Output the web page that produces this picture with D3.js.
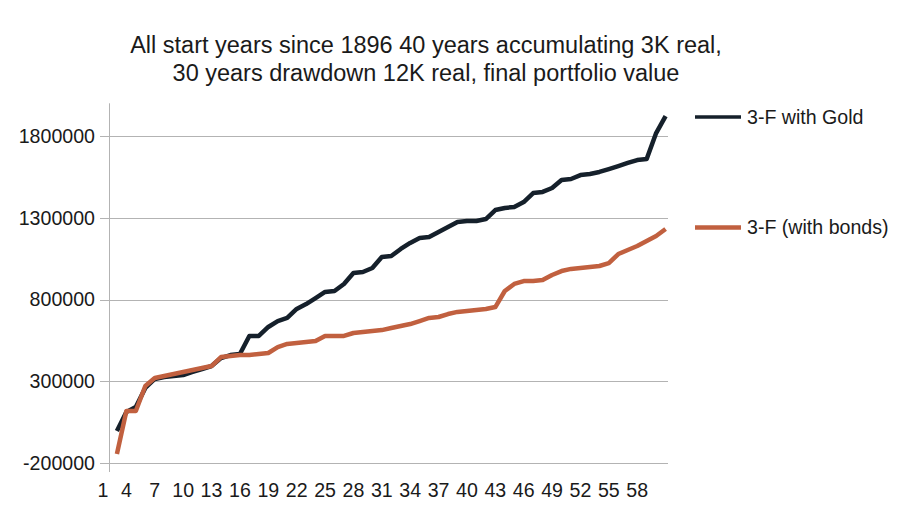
<!DOCTYPE html>
<html>
<head>
<meta charset="utf-8">
<script src="https://cdn.jsdelivr.net/npm/d3@7"></script>
<style>
  body { margin: 0; background: #fff; }
  text { font-family: "Liberation Sans", Arial, sans-serif; fill: #1a1a1a; }
</style>
</head>
<body>
<script>
// category index (start year number) for each point
const starts = [3, 4, 5, 6, 7, 8, 9, 10, 11, 12, 13, 14, 15, 16, 17, 18, 19, 20,
  21, 22, 23, 24, 25, 26, 27, 28, 29, 30, 31, 32, 33, 34, 35, 36, 37, 38, 39, 40,
  41, 42, 43, 44, 45, 46, 47, 48, 49, 50, 51, 52, 53, 54, 55, 56, 57, 58, 59, 60, 61];

const withGold = [-4000, 112000, 142000, 259000, 314000, 326000, 332000, 338000,
  357000, 375000, 393000, 442000, 460000, 467000, 577000, 577000, 632000, 668000,
  687000, 742000, 772000, 809000, 846000, 852000, 895000, 962000, 968000, 993000,
  1060000, 1066000, 1109000, 1146000, 1176000, 1182000, 1213000, 1243000, 1274000,
  1280000, 1280000, 1292000, 1347000, 1360000, 1366000, 1396000, 1451000, 1458000,
  1482000, 1531000, 1537000, 1561000, 1568000, 1580000, 1598000, 1616000, 1635000,
  1653000, 1659000, 1818000, 1922000];

const withBonds = [-145000, 118000, 118000, 271000, 320000, 332000, 344000, 357000,
  369000, 381000, 393000, 448000, 454000, 460000, 460000, 467000, 473000, 509000,
  528000, 534000, 540000, 546000, 577000, 577000, 577000, 595000, 601000, 607000,
  613000, 626000, 638000, 650000, 668000, 687000, 693000, 711000, 724000, 730000,
  736000, 742000, 754000, 852000, 895000, 913000, 913000, 919000, 950000, 974000,
  987000, 993000, 999000, 1005000, 1023000, 1078000, 1103000, 1127000, 1158000,
  1188000, 1231000];

const xTicks = [1, 4, 7, 10, 13, 16, 19, 22, 25, 28, 31, 34, 37, 40, 43, 46, 49, 52, 55, 58];
const yTicks = [-200000, 300000, 800000, 1300000, 1800000];
const seriesNames = ["3-F with Gold", "3-F (with bonds)"];
const colors = ["#15202b", "#c1603f"];
const titleLines = ["All start years since 1896 40 years accumulating 3K real,",
                    "30 years drawdown 12K real, final portfolio value"];

const w = 907, h = 510;
const plotLeft = 109.5, plotRight = 668, plotTop = 103.3, plotBottom = 463;

const svg = d3.select("body").append("svg")
  .attr("width", w).attr("height", h);

const x = d3.scaleLinear().domain([1, 61]).range([98, 665.6]);
const y = d3.scaleLinear().domain([-200000, 2000000]).range([plotBottom, plotTop]);

// title
svg.selectAll("text.title")
  .data(titleLines)
  .enter().append("text")
  .attr("class", "title")
  .attr("x", 426)
  .attr("y", (d, i) => 53 + i * 28)
  .attr("text-anchor", "middle")
  .style("font-size", "23.5px")
  .text(d => d);

// gridlines + y tick marks
svg.selectAll("line.grid")
  .data(yTicks)
  .enter().append("line")
  .attr("x1", 100).attr("x2", plotRight)
  .attr("y1", d => Math.round(y(d)) + 0.5)
  .attr("y2", d => Math.round(y(d)) + 0.5)
  .attr("stroke", "#b3b3b3").attr("stroke-width", 1);

// y axis line
svg.append("line")
  .attr("x1", plotLeft).attr("x2", plotLeft)
  .attr("y1", plotTop).attr("y2", 472)
  .attr("stroke", "#b3b3b3");

// y labels
svg.selectAll("text.ylab")
  .data(yTicks)
  .enter().append("text")
  .attr("x", 95)
  .attr("y", d => y(d))
  .attr("dy", "0.35em")
  .attr("text-anchor", "end")
  .style("font-size", "19.6px")
  .text(d => d);

// x labels
svg.selectAll("text.xlab")
  .data(xTicks)
  .enter().append("text")
  .attr("x", d => x(d) + (d === 1 ? 5 : 0))
  .attr("y", 497)
  .attr("text-anchor", "middle")
  .style("font-size", "19.6px")
  .text(d => d);

// lines
const line = d3.line()
  .x((d, i) => x(starts[i]))
  .y(d => y(d));

[withGold, withBonds].forEach((vals, si) => {
  svg.append("path")
    .datum(vals)
    .attr("d", line)
    .attr("fill", "none")
    .attr("stroke", colors[si])
    .attr("stroke-width", 4.5)
    .attr("stroke-linejoin", "round");
});

// legend
const legendY = [117, 227.5];
seriesNames.forEach((name, i) => {
  svg.append("line")
    .attr("x1", 695).attr("x2", 741)
    .attr("y1", legendY[i]).attr("y2", legendY[i])
    .attr("stroke", colors[i]).attr("stroke-width", i === 0 ? 3.5 : 4.5);
  svg.append("text")
    .attr("x", 747)
    .attr("y", legendY[i])
    .attr("dy", "0.35em")
    .style("font-size", "19.6px")
    .text(name);
});
</script>
</body>
</html>
